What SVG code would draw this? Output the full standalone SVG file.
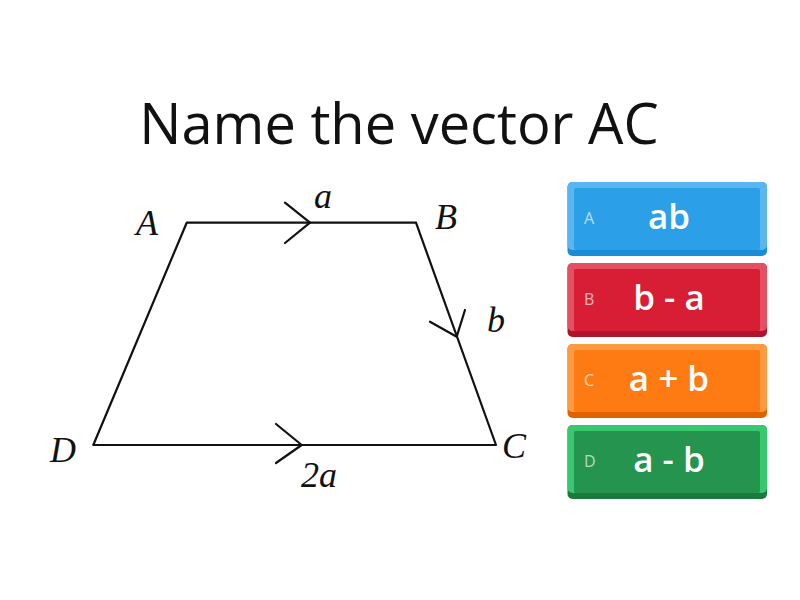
<svg xmlns="http://www.w3.org/2000/svg" width="800" height="600" viewBox="0 0 800 600">
<style>
.title{font-family:"Open Sans","Noto Sans",sans-serif;font-size:56px;fill:#111}
.lbl{font-family:"Liberation Serif","DejaVu Serif",serif;font-style:italic;font-size:36px;fill:#111}
.edge{fill:none;stroke:#111;stroke-width:2.2;stroke-linecap:round;stroke-linejoin:round}
.key{font-family:"Open Sans","Noto Sans",sans-serif;font-size:16px;opacity:0.65;fill:#fff}
.ans{font-family:"Open Sans","Noto Sans",sans-serif;font-size:35px;font-weight:600;fill:#fff;text-anchor:middle}
</style>
<rect width="800" height="600" fill="#fff"/>
<text class="title" x="399" y="144" text-anchor="middle">Name the vector AC</text>
<g id="connectors">
<polyline class="edge" points="416,222.7 186.7,222.7 93.3,445 496,445 416,222.7"/>
<polyline class="edge" points="285,202.7 310,222.7 285,243"/>
<polyline class="edge" points="276,424 301.7,445 276,463"/>
<polyline class="edge" points="430,321.7 456.7,336.7 465,310"/>
</g>
<g id="labels">
<text class="lbl" x="136" y="235">A</text>
<text class="lbl" x="314" y="208">a</text>
<text class="lbl" x="435" y="229">B</text>
<text class="lbl" x="487" y="332">b</text>
<text class="lbl" x="502" y="458">C</text>
<text class="lbl" x="50" y="462">D</text>
<text class="lbl" x="301" y="487">2a</text>
</g>
<g id="optA">
<rect x="567.5" y="182" width="199.5" height="74" rx="5" fill="#1a8cd8"/>
<rect x="567.5" y="182" width="199.5" height="68" rx="5" fill="#5ab6f0"/>
<rect x="574" y="188" width="186" height="62" rx="2" fill="#2b9fe8"/>
<text class="key" x="584" y="224">A</text>
<text class="ans" x="669" y="229">ab</text>
</g>
<g id="optB">
<rect x="567.5" y="263" width="199.5" height="74" rx="5" fill="#b0142a"/>
<rect x="567.5" y="263" width="199.5" height="68" rx="5" fill="#e45062"/>
<rect x="574" y="269" width="186" height="62" rx="2" fill="#d71e34"/>
<text class="key" x="584" y="305">B</text>
<text class="ans" x="669" y="310">b - a</text>
</g>
<g id="optC">
<rect x="567.5" y="344" width="199.5" height="74" rx="5" fill="#e06300"/>
<rect x="567.5" y="344" width="199.5" height="68" rx="5" fill="#ff9a40"/>
<rect x="574" y="350" width="186" height="62" rx="2" fill="#fe7b14"/>
<text class="key" x="584" y="386">C</text>
<text class="ans" x="669" y="391">a + b</text>
</g>
<g id="optD">
<rect x="567.5" y="425" width="199.5" height="74" rx="5" fill="#1b7a3d"/>
<rect x="567.5" y="425" width="199.5" height="68" rx="5" fill="#38c870"/>
<rect x="574" y="431" width="186" height="62" rx="2" fill="#24944e"/>
<text class="key" x="584" y="467">D</text>
<text class="ans" x="669" y="472">a - b</text>
</g>
</svg>
